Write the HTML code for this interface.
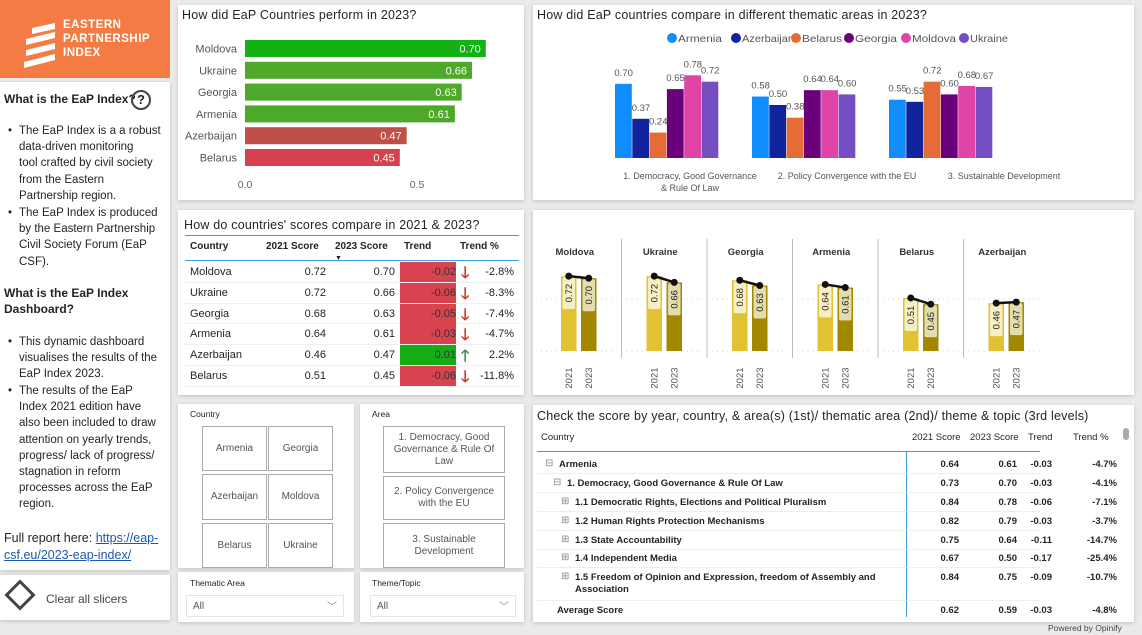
<!DOCTYPE html>
<html><head><meta charset="utf-8">
<style>
*{box-sizing:border-box;margin:0;padding:0}
body{width:1142px;height:635px;background:#eaeaea;font-family:"Liberation Sans",sans-serif;position:relative;overflow:hidden;color:#252423}
.p{position:absolute;background:#fff;box-shadow:0 1px 4px rgba(0,0,0,.18)}
.t{position:absolute;white-space:nowrap}
.ttl{font-size:12.5px;color:#252423;letter-spacing:.2px}
svg text{font-family:"Liberation Sans",sans-serif}
.btn{position:absolute;border:1.5px solid #aaa;font-size:10px;color:#555;display:flex;align-items:center;justify-content:center;text-align:center;line-height:12px}
.dd{position:absolute;border:1px solid #e4e4e4;height:22px;font-size:10px;color:#555;padding:5px 6px}
</style></head><body>

<div class="p" style="left:0;top:0;width:170px;height:78px;background:#f47c44;box-shadow:none">
 <svg width="60" height="60" style="position:absolute;left:20px;top:16px">
  <polygon points="12,12 35,7 35,13 12,18" fill="#fff"/><polygon points="6,23 35,16 35,22 6,29" fill="#fff"/><polygon points="6,34 35,27 35,33 6,40" fill="#fff"/><polygon points="4,46 35,38 35,44 4,52" fill="#fff"/>
 </svg>
 <div class="t" style="left:63px;top:18px;color:#fff;font-weight:bold;font-size:11.5px;line-height:14px;letter-spacing:.5px">EASTERN<br>PARTNERSHIP<br>INDEX</div>
</div>

<div class="p" style="left:0;top:82px;width:170px;height:488px;font-size:11.5px;line-height:16.2px;color:#252423">
 <div class="t" style="left:4px;top:9px;font-weight:bold;font-size:12px">What is the EaP Index?</div>
 <div style="position:absolute;left:131px;top:8px;width:20px;height:20px;border:2px solid #444;border-radius:50%;font-weight:bold;font-size:13px;text-align:center;line-height:16px">?</div>
 <div class="t" style="left:8px;top:41px">•</div>
 <div class="t" style="left:19px;top:41px">The EaP Index is a a robust<br>data-driven monitoring<br>tool crafted by civil society<br>from the Eastern<br>Partnership region.</div>
 <div class="t" style="left:8px;top:123px">•</div>
 <div class="t" style="left:19px;top:123px">The EaP Index is produced<br>by the Eastern Partnership<br>Civil Society Forum (EaP<br>CSF).</div>
 <div class="t" style="left:4px;top:203px;font-weight:bold;font-size:12px">What is the EaP Index<br>Dashboard?</div>
 <div class="t" style="left:8px;top:252px">•</div>
 <div class="t" style="left:19px;top:252px">This dynamic dashboard<br>visualises the results of the<br>EaP Index 2023.</div>
 <div class="t" style="left:8px;top:301px">•</div>
 <div class="t" style="left:19px;top:301px">The results of the EaP<br>Index 2021 edition have<br>also been included to draw<br>attention on yearly trends,<br>progress/ lack of progress/<br>stagnation in reform<br>processes across the EaP<br>region.</div>
 <div class="t" style="left:4px;top:448px;font-size:12.5px;line-height:17px">Full report here: <span style="color:#1a57b5;text-decoration:underline">https://eap-</span><br><span style="color:#1a57b5;text-decoration:underline">csf.eu/2023-eap-index/</span></div>
</div>

<div class="p" style="left:0;top:575px;width:170px;height:45px">
 <div style="position:absolute;left:9px;top:9px;width:22px;height:22px;border:3px solid #444;transform:rotate(45deg)"></div>
 <div class="t" style="left:46px;top:17px;font-size:12px;color:#444">Clear all slicers</div>
</div>

<div class="p" style="left:178px;top:5px;width:346px;height:195px">
 <div class="t ttl" style="left:4px;top:3px">How did EaP Countries perform in 2023?</div>
</div>
<svg id="hbar" class="t" style="left:178px;top:5px" width="346" height="195"></svg>

<div class="p" style="left:178px;top:210px;width:346px;height:185px;font-size:11px">
 <div class="t ttl" style="left:6px;top:8px">How do countries' scores compare in 2021 &amp; 2023?</div>
 <div style="position:absolute;left:7px;top:25px;width:334px;border-top:1.5px solid #3a9be0"></div>
 <div style="position:absolute;left:7px;top:50px;width:334px;border-top:1.5px solid #3a9be0"></div>
 <div class="t" style="left:12px;top:31px;font-weight:bold;font-size:10px">Country</div>
 <div class="t" style="left:88px;top:31px;font-weight:bold;font-size:10px">2021 Score</div>
 <div class="t" style="left:157px;top:31px;font-weight:bold;font-size:10px">2023 Score<br><span style="font-size:7px;line-height:6px">▼</span></div>
 <div class="t" style="left:226px;top:31px;font-weight:bold;font-size:10px">Trend</div>
 <div class="t" style="left:282px;top:31px;font-weight:bold;font-size:10px">Trend %</div>
 <div id="tbody"></div>
</div>

<div class="p" style="left:178px;top:404px;width:176px;height:164px">
 <div class="t" style="left:12px;top:5px;font-size:8.5px">Country</div>
 <div class="btn" style="left:24px;top:22px;width:65px;height:45px">Armenia</div>
 <div class="btn" style="left:90px;top:22px;width:65px;height:45px">Georgia</div>
 <div class="btn" style="left:24px;top:70px;width:65px;height:46px">Azerbaijan</div>
 <div class="btn" style="left:90px;top:70px;width:65px;height:46px">Moldova</div>
 <div class="btn" style="left:24px;top:119px;width:65px;height:45px">Belarus</div>
 <div class="btn" style="left:90px;top:119px;width:65px;height:45px">Ukraine</div>
</div>
<div class="p" style="left:360px;top:404px;width:164px;height:164px">
 <div class="t" style="left:12px;top:5px;font-size:8.5px">Area</div>
 <div class="btn" style="left:23px;top:22px;width:122px;height:47px">1. Democracy, Good<br>Governance &amp; Rule Of<br>Law</div>
 <div class="btn" style="left:23px;top:72px;width:122px;height:44px">2. Policy Convergence<br>with the EU</div>
 <div class="btn" style="left:23px;top:119px;width:122px;height:45px">3. Sustainable<br>Development</div>
</div>
<div class="p" style="left:178px;top:572px;width:176px;height:50px">
 <div class="t" style="left:12px;top:6px;font-size:8.5px">Thematic Area</div>
 <div class="dd" style="left:8px;top:23px;width:158px">All<span style="position:absolute;right:6px;top:2px;color:#888">﹀</span></div>
</div>
<div class="p" style="left:360px;top:572px;width:164px;height:50px">
 <div class="t" style="left:12px;top:6px;font-size:8.5px">Theme/Topic</div>
 <div class="dd" style="left:10px;top:23px;width:146px">All<span style="position:absolute;right:6px;top:2px;color:#888">﹀</span></div>
</div>

<div class="p" style="left:533px;top:5px;width:601px;height:195px">
 <div class="t ttl" style="left:4px;top:3px">How did EaP countries compare in different thematic areas in 2023?</div>
</div>
<svg id="theme" class="t" style="left:533px;top:5px" width="601" height="195"></svg>

<div class="p" style="left:533px;top:210px;width:601px;height:185px"></div>
<svg id="sm" class="t" style="left:533px;top:210px" width="601" height="185"></svg>

<div class="p" style="left:533px;top:405px;width:601px;height:217px;font-size:10px">
 <div class="t ttl" style="left:4px;top:4px">Check the score by year, country, &amp; area(s) (1st)/ thematic area (2nd)/ theme &amp; topic (3rd levels)</div>
 <div class="t" style="left:8px;top:27px;font-size:9.5px">Country</div>
 <div class="t" style="left:379px;top:27px;font-size:9.5px">2021 Score</div>
 <div class="t" style="left:437px;top:27px;font-size:9.5px">2023 Score</div>
 <div class="t" style="left:495px;top:27px;font-size:9.5px">Trend</div>
 <div class="t" style="left:540px;top:27px;font-size:9.5px">Trend %</div>
 <div style="position:absolute;left:4px;top:46px;width:503px;border-top:1.5px solid #3a9be0"></div>
 <div style="position:absolute;left:373px;top:46px;height:166px;border-left:1px solid #3a9be0"></div>
 <div style="position:absolute;left:590px;top:23px;width:6px;height:12px;background:#aaa;border-radius:3px"></div>
 <div id="mbody"></div>
</div>
<div class="t" style="left:1048px;top:623px;font-size:8.5px;color:#444">Powered by Opinify</div>

<script>
var NS="http://www.w3.org/2000/svg";
function el(tag,attrs,parent,txt){var e=document.createElementNS(NS,tag);for(var k in attrs)e.setAttribute(k,attrs[k]);if(txt!==undefined)e.textContent=txt;parent.appendChild(e);return e;}

var hbCountries=["Moldova","Ukraine","Georgia","Armenia","Azerbaijan","Belarus"];
var hbValues=[0.70,0.66,0.63,0.61,0.47,0.45];
var hbColors=["#14b114","#4ea82a","#4ea82a","#4ea82a","#be5048","#d9404f"];
var hbTicks=[0.0,0.5];
(function(){
 var s=document.getElementById("hbar");
 var x0=67,k=344,y0=35,step=21.8,bh=17;
 function xs(v){return x0+v*k;}
 hbCountries.forEach(function(c,i){
  var y=y0+i*step;
  var t=el("text",{x:59,y:y+12.5,"text-anchor":"end","font-size":"11",fill:"#555"},s,c);
  
  
  var r=el("rect",{x:xs(0),y:y,width:xs(hbValues[i])-xs(0),height:bh,fill:hbColors[i]},s);
  
  
  el("text",{x:xs(hbValues[i])-5,y:y+12.5,"text-anchor":"end","font-size":"11",fill:"#fff"},s,hbValues[i].toFixed(2));
 });
 hbTicks.forEach(function(v){
  var t=el("text",{x:xs(v),y:183,"text-anchor":"middle","font-size":"10.5",fill:"#666"},s,v.toFixed(1));
  
  
 });
})();

var tbCountries=["Moldova","Ukraine","Georgia","Armenia","Azerbaijan","Belarus"];
var tb2021=[0.72,0.72,0.68,0.64,0.46,0.51];
var tb2023=[0.70,0.66,0.63,0.61,0.47,0.45];
var tbTrend=[-0.02,-0.06,-0.05,-0.03,0.01,-0.06];
var tbPct=["-2.8%","-8.3%","-7.4%","-4.7%","2.2%","-11.8%"];
(function(){
 var b=document.getElementById("tbody"),h="";
 tbCountries.forEach(function(c,i){
  var y=52+i*20.8;
  var up=tbTrend[i]>0;
  h+='<div style="position:absolute;left:7px;top:'+y+'px;width:334px;height:20.8px;border-bottom:1px solid #eee;font-size:11px">'+
  '<span class="t" style="left:5px;top:4px">'+c+'</span>'+
  '<span class="t" style="right:193px;top:4px">'+tb2021[i].toFixed(2)+'</span>'+
  '<span class="t" style="right:124px;top:4px">'+tb2023[i].toFixed(2)+'</span>'+
  '<span style="position:absolute;left:215px;top:0;width:56px;height:20px;background:'+(up?'#15ad15':'#d8434f')+'"></span>'+
  '<span class="t" style="right:63px;top:4px;color:#333">'+tbTrend[i].toFixed(2)+'</span>'+
  '<span class="t" style="left:276px;top:0px;font-size:16px;font-weight:bold;color:'+(up?'#3f8a55':'#d23a2a')+'">'+(up?'🡑':'🡓')+'</span>'+
  '<span class="t" style="right:5px;top:4px">'+tbPct[i]+'</span></div>';
 });
 b.innerHTML=h;
})();

var thAreas=["1. Democracy, Good Governance|& Rule Of Law","2. Policy Convergence with the EU","3. Sustainable Development"];
var thSeries=["Armenia","Azerbaijan","Belarus","Georgia","Moldova","Ukraine"];
var thColors=["#118dff","#12239e","#e66c37","#6b007b","#e044a7","#744ec2"];
var thArmenia=[0.70,0.58,0.55];
var thAzerbaijan=[0.37,0.50,0.53];
var thBelarus=[0.24,0.38,0.72];
var thGeorgia=[0.65,0.64,0.60];
var thMoldova=[0.78,0.64,0.68];
var thUkraine=[0.72,0.60,0.67];
(function(){
 var s=document.getElementById("theme");
 var vals=[thArmenia,thAzerbaijan,thBelarus,thGeorgia,thMoldova,thUkraine];
 var base=153,k=106,gx=[82,219,356],bw=17.3,lc=[157,314,471];
 function ys(v){return base-v*k;}
 var lx=[134,198,258,311,368,426],lw=[44,52,40,42,44,38];
 thSeries.forEach(function(n,i){
  var c=el("circle",{cx:lx[i]+5,cy:33,r:5,fill:thColors[i]},s);
  
  
  var t=el("text",{x:lx[i]+11,y:37,"font-size":"10.5",fill:"#555",textLength:lw[i],lengthAdjust:"spacingAndGlyphs"},s,n);
  
  
 });
 thAreas.forEach(function(a,g){
  vals.forEach(function(ser,i){
   var x=gx[g]+i*bw,v=ser[g];
   var r=el("rect",{x:x,y:ys(v),width:bw-0.5,height:base-ys(v),fill:thColors[i]},s);
   
   
   el("text",{x:x+bw/2,y:ys(v)-8,"text-anchor":"middle","font-size":"9.5",fill:"#555"},s,v.toFixed(2));
  });
  var parts=a.split("|");
  parts.forEach(function(p,j){
   var t=el("text",{x:lc[g],y:174+j*12,"text-anchor":"middle","font-size":"9",fill:"#555"},s,p);
   
   
  });
 });
})();

var smCountries=["Moldova","Ukraine","Georgia","Armenia","Belarus","Azerbaijan"];
var sm2021=[0.72,0.72,0.68,0.64,0.51,0.46];
var sm2023=[0.70,0.66,0.63,0.61,0.45,0.47];
var smYears=["2021","2023"];
var smGrid=[0,0.5];
(function(){
 var s=document.getElementById("sm");
 var base=141,k=104,pw=85.5,p0=3;
 function ys(v){return base-v*k;}
 for(var i=0;i<smCountries.length;i++){
  var px=p0+i*pw;
  if(i>0)el("line",{x1:px,y1:29,x2:px,y2:148,stroke:"#bbb","stroke-width":1},s);
  smGrid.forEach(function(g){el("line",{x1:px+5,y1:ys(g),x2:px+pw-5,y2:ys(g),stroke:"#ccc","stroke-dasharray":"1,4"},s);});
  var t=el("text",{x:px+pw/2-4,y:45,"text-anchor":"middle","font-size":"9.5","font-weight":"bold",fill:"#333"},s,smCountries[i]);
  
  
  var v=[sm2021[i],sm2023[i]],xs=[px+25,px+45],cols=["#e1c233","#a38700"],lb=["#f7efc4","#e3dcae"];
  var pts=[];
  v.forEach(function(val,j){
   var r=el("rect",{x:xs[j],y:ys(val),width:15.5,height:base-ys(val),fill:cols[j]},s);
   
   
   el("rect",{x:xs[j]+1.5,y:ys(val)+1,width:12.5,height:32,rx:2,fill:lb[j]},s);
   var cx=xs[j]+7.75,cy=ys(val)+17;
   el("text",{x:cx,y:cy+3.5,"text-anchor":"middle","font-size":"9.5",fill:"#222",transform:"rotate(-90 "+cx+" "+cy+")"},s,val.toFixed(2));
   pts.push([cx,ys(val)]);
   var yy=ys(-0.26);
   var yt=el("text",{x:cx,y:yy+3.5,"text-anchor":"middle","font-size":"9.5",fill:"#555",transform:"rotate(-90 "+cx+" "+yy+")"},s,smYears[j]);
   
   
  });
  el("line",{x1:pts[0][0],y1:pts[0][1],x2:pts[1][0],y2:pts[1][1],stroke:"#111","stroke-width":2.5},s);
  pts.forEach(function(p){el("circle",{cx:p[0],cy:p[1],r:3.5,fill:"#111"},s);});
 }
})();

var mxLabels=["Armenia","1. Democracy, Good Governance & Rule Of Law","1.1 Democratic Rights, Elections and Political Pluralism","1.2 Human Rights Protection Mechanisms","1.3 State Accountability","1.4 Independent Media","1.5 Freedom of Opinion and Expression, freedom of Assembly and|Association","Average Score"];
var mx2021=["0.64","0.73","0.84","0.82","0.75","0.67","0.84","0.62"];
var mx2023=["0.61","0.70","0.78","0.79","0.64","0.50","0.75","0.59"];
var mxTrend=["-0.03","-0.03","-0.06","-0.03","-0.11","-0.17","-0.09","-0.03"];
var mxPct=["-4.7%","-4.1%","-7.1%","-3.7%","-14.7%","-25.4%","-10.7%","-4.8%"];
(function(){
 var b=document.getElementById("mbody"),h="";
 var tops=[50,69,88,107,126,144,163,196],ind=[8,16,24,24,24,24,24,0],icon=["⊟","⊟","⊞","⊞","⊞","⊞","⊞",""];
 mxLabels.forEach(function(l,i){
  var y=tops[i],lab=l.replace("|","<br>");
  var hgt=(i==6?33:19);
  h+='<div style="position:absolute;left:4px;top:'+y+'px;width:503px;height:'+hgt+'px;'+(i<7?'border-bottom:1px solid #eee;':'')+'font-size:9.5px;font-weight:bold">'+
  (icon[i]?'<span class="t" style="left:'+ind[i]+'px;top:3px;color:#888;font-weight:normal;font-size:10px">'+icon[i]+'</span>':'')+
  '<span class="t" style="left:'+(ind[i]+14+(i==7?6:0))+'px;top:4px;line-height:12px">'+lab+'</span>'+
  '<span class="t" style="right:81px;top:4px">'+mx2021[i]+'</span>'+
  '<span class="t" style="right:23px;top:4px">'+mx2023[i]+'</span>'+
  '<span class="t" style="right:-12px;top:4px">'+mxTrend[i]+'</span>'+
  '<span class="t" style="right:-77px;top:4px">'+mxPct[i]+'</span></div>';
 });
 b.innerHTML=h;
})();
</script>
</body></html>
